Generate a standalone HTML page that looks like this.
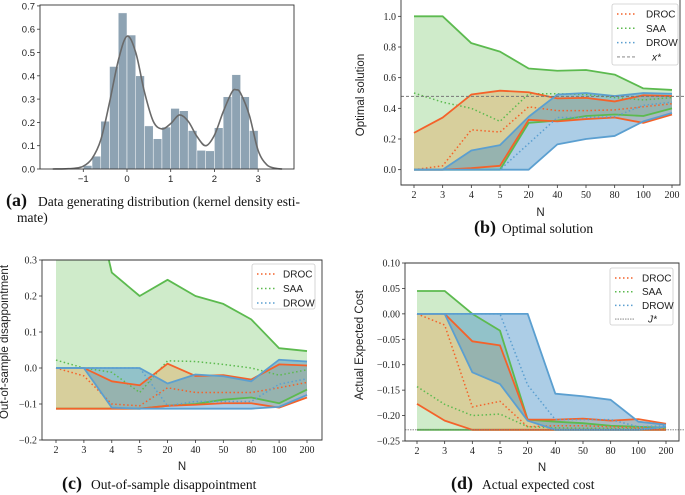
<!DOCTYPE html>
<html><head><meta charset="utf-8"><style>
body{margin:0;background:#fff}
svg{display:block}
.tk{font-family:"Liberation Serif",serif;font-size:10px;fill:#222}
.tks{font-family:"Liberation Sans",sans-serif;font-size:9.5px;fill:#222}
.lab{font-family:"Liberation Sans",sans-serif;font-size:11.5px;fill:#222}
.leg{font-family:"Liberation Sans",sans-serif;font-size:10px;fill:#222}
.cap{font-family:"Liberation Serif",serif;font-size:13.5px;fill:#111}
.capb{font-family:"Liberation Serif",serif;font-size:18px;font-weight:bold;fill:#111}
</style></head><body>
<svg id="fig" width="685" height="495" xmlns="http://www.w3.org/2000/svg">
<defs>
<clipPath id="clipc"><rect x="42" y="260" width="280" height="180"/></clipPath>
<clipPath id="clipb"><rect x="401" y="0" width="279" height="185"/></clipPath>
<clipPath id="clipd"><rect x="405" y="263" width="274" height="178"/></clipPath>
</defs>
<g id="pa"></g>
<g id="pb"></g>
<g id="pc"></g>
<g id="pd"></g>
<text class="capb" x="6" y="206">(a)</text>
<text class="cap" x="38" y="206">Data generating distribution (kernel density esti-</text>
<text class="cap" x="17" y="222">mate)</text>
<text class="capb" x="474" y="233">(b)</text>
<text class="cap" x="502" y="233">Optimal solution</text>
<text class="capb" x="62" y="489">(c)</text>
<text class="cap" x="91" y="489">Out-of-sample disappointment</text>
<text class="capb" x="451" y="489">(d)</text>
<text class="cap" x="482" y="489">Actual expected cost</text>
</svg>
<script>
// ---------- Panel (a) data ----------
const histStart = -1.0, histWidth = 0.2;
const histHeights = [0.015,0.055,0.205,0.44,0.67,0.575,0.40,0.185,0.13,0.18,0.26,0.25,0.165,0.08,0.078,0.177,0.31,0.405,0.31,0.165];
const kdeX = [-1.7,-1.4,-1.2,-1.0,-0.8,-0.6,-0.4,-0.2,0,0.2,0.4,0.6,0.8,1.0,1.2,1.4,1.6,1.8,2.0,2.2,2.4,2.5,2.6,2.8,3.0,3.2,3.4,3.55];
const kdeY = [0,0.001,0.003,0.012,0.045,0.125,0.285,0.465,0.57,0.50,0.33,0.205,0.172,0.195,0.232,0.205,0.14,0.10,0.145,0.245,0.33,0.34,0.325,0.23,0.08,0.018,0.003,0];
const aYTicks = [0,0.1,0.2,0.3,0.4,0.5,0.6,0.7];
const aXTicks = [-1,0,1,2,3];

// ---------- shared ----------
const nLabels = ["2","3","4","5","20","40","50","80","100","200"];

// ---------- Panel (b) ----------
const bDROCup = [0.24,0.34,0.49,0.515,0.505,0.465,0.468,0.445,0.485,0.48];
const bDROClo = [0,0,0.01,0.025,0.325,0.315,0.33,0.34,0.305,0.36];
const bDROCmean = [0,0.025,0.26,0.245,0.41,0.385,0.385,0.39,0.41,0.43];
const bSAAup = [1,1,0.825,0.77,0.66,0.645,0.65,0.62,0.53,0.52];
const bSAAlo = [0,0,0,0,0.305,0.32,0.35,0.36,0.35,0.40];
const bSAAmean = [0.5,0.44,0.4,0.315,0.495,0.495,0.49,0.47,0.455,0.47];
const bDROWup = [0,0,0.125,0.16,0.345,0.49,0.5,0.48,0.5,0.495];
const bDROWlo = [0,0,0,0,0,0.165,0.2,0.22,0.315,0.37];
const bDROWmean = [0,0,0,0,0.17,0.34,0.34,0.345,0.42,0.44];
const bRef = 0.478;
const bYTicks = [0,0.2,0.4,0.6,0.8,1.0];

// ---------- Panel (c) ----------
const cDROCup = [0,0,-0.037,-0.048,0.012,-0.022,-0.02,-0.032,0.01,0.007];
const cDROClo = [-0.113,-0.113,-0.113,-0.113,-0.105,-0.102,-0.098,-0.098,-0.11,-0.082];
const cDROCmean = [0,-0.022,-0.1,-0.105,-0.055,-0.068,-0.068,-0.068,-0.055,-0.04];
const cSAAup = [0.6,0.6,0.265,0.2,0.245,0.2,0.178,0.135,0.055,0.047];
const cSAAlo = [-0.113,-0.113,-0.113,-0.113,-0.105,-0.1,-0.088,-0.082,-0.098,-0.06];
const cSAAmean = [0.022,0,-0.012,-0.068,0.02,0.018,0.01,0,-0.02,-0.005];
const cDROWup = [0,0,0,0,-0.043,-0.018,-0.023,-0.037,0.023,0.018];
const cDROWlo = [0,0,-0.11,-0.113,-0.113,-0.113,-0.113,-0.113,-0.108,-0.075];
const cDROWmean = [0,0,0,0,-0.105,-0.093,-0.093,-0.093,-0.045,-0.03];
const cYTicks = [-0.2,-0.1,0,0.1,0.2,0.3];

// ---------- Panel (d) ----------
const dDROCup = [0,0,-0.054,-0.062,-0.208,-0.208,-0.206,-0.21,-0.207,-0.216];
const dDROClo = [-0.177,-0.21,-0.228,-0.228,-0.228,-0.228,-0.228,-0.228,-0.228,-0.228];
const dDROCmean = [0,-0.022,-0.183,-0.172,-0.222,-0.22,-0.22,-0.222,-0.224,-0.224];
const dSAAup = [0.045,0.045,0,-0.033,-0.208,-0.212,-0.215,-0.22,-0.222,-0.224];
const dSAAlo = [-0.228,-0.228,-0.228,-0.228,-0.228,-0.228,-0.228,-0.228,-0.228,-0.228];
const dSAAmean = [-0.143,-0.178,-0.2,-0.197,-0.222,-0.224,-0.225,-0.225,-0.226,-0.226];
const dDROWup = [0,0,0,0,0,-0.157,-0.162,-0.169,-0.212,-0.218];
const dDROWlo = [0,0,-0.115,-0.138,-0.21,-0.228,-0.228,-0.228,-0.228,-0.222];
const dDROWmean = [0,0,0,0,-0.14,-0.208,-0.208,-0.208,-0.222,-0.22];
const dRef = -0.228;
const dYTicks = [-0.25,-0.2,-0.15,-0.1,-0.05,0,0.05,0.1];

const NS = "http://www.w3.org/2000/svg";
function mk(parent, tag, attrs, text){
  const e = document.createElementNS(NS, tag);
  for (const k in attrs) e.setAttribute(k, attrs[k]);
  if (text !== undefined) e.textContent = text;
  parent.appendChild(e);
  return e;
}
function fmtMinus(s){ return s.replace('-', '\u2212'); }

// ---------- draw (a) ----------
(function(){
  const g = document.getElementById('pa');
  const L=40,R=294,T=5,B=169;
  const xs = v => 127 + v*43.7;
  const ys = v => B - v*233;
  histHeights.forEach((h,i)=>{
    const x0 = xs(histStart + i*histWidth), x1 = xs(histStart+(i+1)*histWidth);
    const r = mk(g,'rect',{x:x0,y:ys(h),width:x1-x0,height:B-ys(h),fill:'#8ea3b3',stroke:'#fff','stroke-width':0.5});
    
    
  });
  const pts = kdeX.map((x,i)=>[xs(x),ys(kdeY[i])]);
  let d = 'M'+pts[0][0]+','+pts[0][1];
  for (let i=0;i<pts.length-1;i++){
    const p0=pts[Math.max(0,i-1)],p1=pts[i],p2=pts[i+1],p3=pts[Math.min(pts.length-1,i+2)];
    const c1=[p1[0]+(p2[0]-p0[0])/6,p1[1]+(p2[1]-p0[1])/6];
    const c2=[p2[0]-(p3[0]-p1[0])/6,p2[1]-(p3[1]-p1[1])/6];
    d+=' C'+c1+' '+c2+' '+p2;
  }
  const kp = mk(g,'path',{d:d,fill:'none',stroke:'#6a6a6a','stroke-width':1.6});
  
  
  const fr = mk(g,'rect',{x:L,y:T,width:R-L,height:B-T,fill:'none',stroke:'#333','stroke-width':0.9});
  
  
  aYTicks.forEach(v=>{
    mk(g,'line',{x1:L-3,x2:L,y1:ys(v),y2:ys(v),stroke:'#333','stroke-width':0.8});
    const t = mk(g,'text',{x:L-5,y:ys(v)+3.5,'text-anchor':'end',class:'tks'},v.toFixed(1));
    
    
  });
  aXTicks.forEach(v=>{
    mk(g,'line',{x1:xs(v),x2:xs(v),y1:B,y2:B+3,stroke:'#333','stroke-width':0.8});
    const t = mk(g,'text',{x:xs(v),y:B+13,'text-anchor':'middle',class:'tks'},fmtMinus(String(v)));
    
    
  });
})();

// ---------- generic band panel ----------
const COL = {DROC:'#f4622a', SAA:'#5cba4f', DROW:'#5b9fd0'};
const FILL = {DROC:'rgba(232,150,60,0.32)', SAA:'rgba(110,195,95,0.33)', DROW:'rgba(70,145,200,0.45)'};
function bandPanel(gid, cfg){
  const g = document.getElementById(gid);
  const {L,R,T,B,x0,x1,ymin,ymax,clip} = cfg;
  const xs = i => x0 + i*(x1-x0)/(nLabels.length-1);
  const ys = v => B - (v-ymin)/(ymax-ymin)*(B-T);
  const inner = mk(g,'g',{'clip-path':'url(#'+clip+')'});
  const order = ['SAA','DROC','DROW'];
  order.forEach(k=>{
    const s = cfg.series[k];
    let d='M'+s.up.map((v,i)=>xs(i)+','+ys(v)).join(' L');
    for (let i=s.lo.length-1;i>=0;i--) d+=' L'+xs(i)+','+ys(s.lo[i]);
    d+='Z';
    const f = mk(inner,'path',{d:d,fill:FILL[k],stroke:'none'});
    
    
  });
  if (cfg.ref !== undefined){
    const l = mk(g,'line',{x1:cfg.refX0,x2:cfg.refX1,y1:ys(cfg.ref),y2:ys(cfg.ref),stroke:'#777','stroke-width':0.9,'stroke-dasharray':cfg.refDash});
    
    
  }
  order.forEach(k=>{
    const s = cfg.series[k];
    ['up','lo'].forEach(b=>{
      const p = mk(inner,'polyline',{points:s[b].map((v,i)=>xs(i)+','+ys(v)).join(' '),fill:'none',stroke:COL[k],'stroke-width':1.8,'stroke-linejoin':'round'});
      
      
    });
    const m = mk(inner,'polyline',{points:s.mean.map((v,i)=>xs(i)+','+ys(v)).join(' '),fill:'none',stroke:COL[k],'stroke-width':1.5,'stroke-dasharray':'1.5,2.5'});
    
    
  });
  const fr = mk(g,'path',{d:cfg.frame,fill:'none',stroke:'#333','stroke-width':0.9});
  
  
  cfg.yticks.forEach(v=>{
    mk(g,'line',{x1:L-3,x2:L,y1:ys(v),y2:ys(v),stroke:'#333','stroke-width':0.8});
    const t = mk(g,'text',{x:L-5,y:ys(v)+3.5,'text-anchor':'end',class:'tk'},fmtMinus(v.toFixed(cfg.dec)));
    
    
  });
  nLabels.forEach((lab,i)=>{
    mk(g,'line',{x1:xs(i),x2:xs(i),y1:B,y2:B+3,stroke:'#333','stroke-width':0.8});
    const t = mk(g,'text',{x:xs(i),y:B+13,'text-anchor':'middle',class:'tk'},lab);
    
    
  });
  const xl = mk(g,'text',{x:(L+R)/2,y:cfg.nY,'text-anchor':'middle',class:'lab'},'N');
  
  
  const yl = mk(g,'text',{x:cfg.ylX,y:cfg.ylY,'text-anchor':'middle',class:'lab',transform:'rotate(-90 '+cfg.ylX+' '+cfg.ylY+')'},cfg.ylabel);
  
  
  const lg = cfg.leg;
  const lb = mk(g,'rect',{x:lg.x,y:lg.y,width:lg.w,height:lg.h,rx:2,fill:'rgba(255,255,255,0.85)',stroke:'#ccc','stroke-width':0.8});
  
  
  const names = ['DROC','SAA','DROW'];
  names.forEach((k,i)=>{
    const y = lg.y+10+i*lg.dy;
    mk(g,'line',{x1:lg.x+5,x2:lg.x+25,y1:y,y2:y,stroke:COL[k],'stroke-width':1.5,'stroke-dasharray':'1.5,2.5'});
    const t = mk(g,'text',{x:lg.x+lg.tx,y:y+3.5,class:'leg'},k);
    
    
  });
  if (lg.refLabel){
    const y = lg.y+10+3*lg.dy;
    mk(g,'line',{x1:lg.x+5,x2:lg.x+25,y1:y,y2:y,stroke:'#777','stroke-width':0.9,'stroke-dasharray':cfg.refDash});
    const t = mk(g,'text',{x:lg.x+lg.tx+6,y:y+3.5,class:'leg','font-style':'italic','font-family':'Liberation Serif, serif'},lg.refLabel);
    
    
  }
}

bandPanel('pb',{L:401,R:680,T:1,B:185,x0:414,x1:672,ymin:-0.1,ymax:1.1,clip:'clipb',dec:1,
  yticks:bYTicks,frame:'M401,0 L401,185 L680,185 L680,0',ref:bRef,refX0:401,refX1:685,refDash:'3,2',
  nY:216,ylX:364,ylY:95,ylabel:'Optimal solution',
  leg:{x:612,y:4,w:66,h:61,dy:14.3,tx:34,refLabel:'x*'},
  series:{DROC:{up:bDROCup,lo:bDROClo,mean:bDROCmean},SAA:{up:bSAAup,lo:bSAAlo,mean:bSAAmean},DROW:{up:bDROWup,lo:bDROWlo,mean:bDROWmean}}});

bandPanel('pc',{L:42,R:322,T:260,B:440,x0:56,x1:307,ymin:-0.2,ymax:0.3,clip:'clipc',dec:1,
  yticks:cYTicks,frame:'M42,260 L42,440 L322,440 L322,260 Z',
  nY:470,ylX:8,ylY:342,ylabel:'Out-of-sample disappointment',
  leg:{x:252,y:264,w:63,h:45,dy:14.5,tx:31},
  series:{DROC:{up:cDROCup,lo:cDROClo,mean:cDROCmean},SAA:{up:cSAAup,lo:cSAAlo,mean:cSAAmean},DROW:{up:cDROWup,lo:cDROWlo,mean:cDROWmean}}});

bandPanel('pd',{L:405,R:679,T:263,B:441,x0:417,x1:666,ymin:-0.25,ymax:0.10,clip:'clipd',dec:2,
  yticks:dYTicks,frame:'M405,263 L405,441 L679,441 L679,263 Z',ref:dRef,refX0:405,refX1:685,refDash:'1.5,1',
  nY:471,ylX:363,ylY:345,ylabel:'Actual Expected Cost',
  leg:{x:610,y:268,w:63,h:57,dy:13.7,tx:32,refLabel:'J*'},
  series:{DROC:{up:dDROCup,lo:dDROClo,mean:dDROCmean},SAA:{up:dSAAup,lo:dSAAlo,mean:dSAAmean},DROW:{up:dDROWup,lo:dDROWlo,mean:dDROWmean}}});
</script>
</body></html>
